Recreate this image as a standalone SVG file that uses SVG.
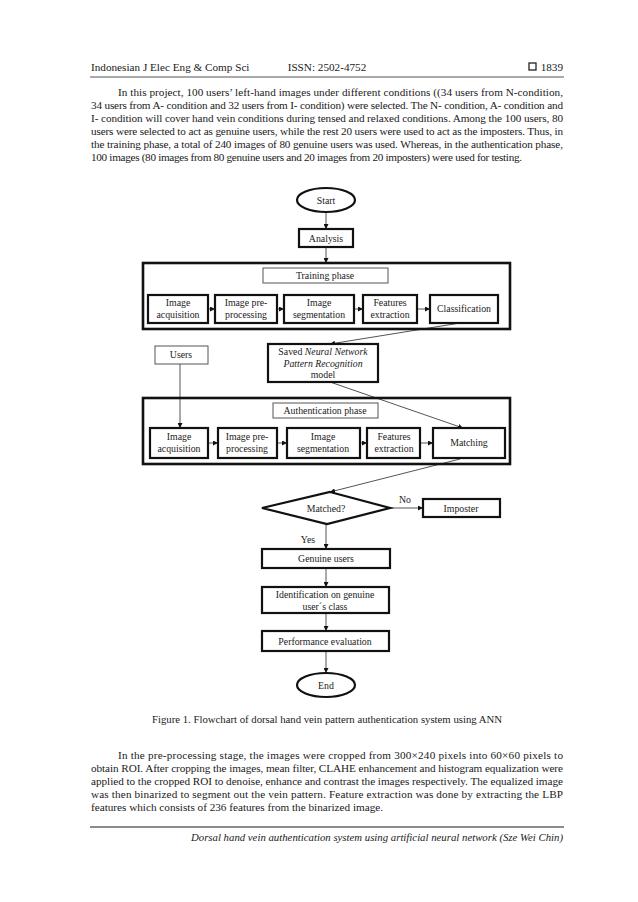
<svg xmlns="http://www.w3.org/2000/svg" width="638" height="902" viewBox="0 0 638 902">
<defs>
<marker id="ah" viewBox="0 0 6 6" refX="6" refY="3" markerWidth="5" markerHeight="5" markerUnits="userSpaceOnUse" orient="auto">
<path d="M0,0 L6,3 L0,6 z" fill="#111"/>
</marker>
</defs>
<style>
text{font-family:"Liberation Serif","Times New Roman",serif;fill:#1a1a1a}
.body{font-size:11.2px}
.hdr{font-size:11.2px}
.lbl{font-size:9.8px;text-anchor:middle}
.bx{fill:#fff;stroke:#111;stroke-width:2.2}
.outer{fill:none;stroke:#111;stroke-width:2.6}
.thin{fill:#fff;stroke:#555;stroke-width:1}
.con{fill:none;stroke:#555;stroke-width:1;marker-end:url(#ah)}
</style>
<rect width="638" height="902" fill="#fff"/>

<!-- header -->
<text class="hdr" x="91" y="71">Indonesian J Elec Eng &amp; Comp Sci</text>
<text class="hdr" x="327" y="71" text-anchor="middle">ISSN: 2502-4752</text>
<rect x="529" y="63" width="7" height="7" fill="none" stroke="#222" stroke-width="1.3"/>
<text class="hdr" x="563" y="71" text-anchor="end">1839</text>
<line x1="90" y1="77" x2="564" y2="77" stroke="#555" stroke-width="1"/>

<!-- paragraph 1 -->
<g class="body">
<text x="118" y="96" textLength="445" lengthAdjust="spacing">In this project, 100 users’ left-hand images under different conditions ((34 users from N-condition,</text>
<text x="91" y="109" textLength="472" lengthAdjust="spacing">34 users from A- condition and 32 users from I- condition) were selected. The N- condition, A- condition and</text>
<text x="91" y="122" textLength="472" lengthAdjust="spacing">I- condition will cover hand vein conditions during tensed and relaxed conditions. Among the 100 users, 80</text>
<text x="91" y="135" textLength="472" lengthAdjust="spacing">users were selected to act as genuine users, while the rest 20 users were used to act as the imposters. Thus, in</text>
<text x="91" y="148" textLength="472" lengthAdjust="spacing">the training phase, a total of 240 images of 80 genuine users was used. Whereas, in the authentication phase,</text>
<text x="91" y="161" textLength="431" lengthAdjust="spacing">100 images (80 images from 80 genuine users and 20 images from 20 imposters) were used for testing.</text>
</g>

<!-- connectors -->
<g id="connectors">
<line class="con" x1="326" y1="212" x2="326" y2="229"/>
<line class="con" x1="326" y1="247" x2="326" y2="263"/>
<line class="con" x1="208" y1="309" x2="215" y2="309"/>
<line class="con" x1="277" y1="309" x2="284" y2="309"/>
<line class="con" x1="354" y1="309" x2="363" y2="309"/>
<line class="con" x1="417" y1="309" x2="430" y2="309"/>
<line class="con" x1="460" y1="323" x2="330" y2="344"/>
<line class="con" x1="180" y1="364" x2="180" y2="428"/>
<line class="con" x1="330" y1="382" x2="463" y2="428"/>
<line class="con" x1="208" y1="443" x2="218" y2="443"/>
<line class="con" x1="277" y1="443" x2="287" y2="443"/>
<line class="con" x1="360" y1="443" x2="367" y2="443"/>
<line class="con" x1="420" y1="443" x2="433" y2="443"/>
<line class="con" x1="460" y1="459" x2="330" y2="492"/>
<line class="con" x1="390" y1="508" x2="423" y2="508"/>
<line class="con" x1="326" y1="524" x2="326" y2="549"/>
<line class="con" x1="326" y1="568" x2="326" y2="587"/>
<line class="con" x1="326" y1="613" x2="326" y2="631"/>
<line class="con" x1="326" y1="651" x2="326" y2="673"/>
<text class="lbl" x="405" y="503">No</text>
<text class="lbl" x="308" y="543">Yes</text>
</g>

<!-- nodes -->
<g id="start"><ellipse class="bx" cx="326" cy="200" rx="29" ry="12"/><text class="lbl" x="326" y="203.5">Start</text></g>
<g id="analysis"><rect class="bx" x="299" y="229" width="54" height="18"/><text class="lbl" x="326" y="241.5">Analysis</text></g>

<g id="training">
<rect class="outer" x="143" y="263" width="367" height="66"/>
<rect class="thin" x="263" y="268" width="125" height="15"/>
<text class="lbl" x="325" y="279">Training  phase</text>
</g>
<g id="t-acq"><rect class="bx" x="148" y="295" width="60" height="28"/><text class="lbl" x="178" y="306">Image</text><text class="lbl" x="178" y="318">acquisition</text></g>
<g id="t-pre"><rect class="bx" x="215" y="295" width="62" height="28"/><text class="lbl" x="246" y="306">Image pre-</text><text class="lbl" x="246" y="318">processing</text></g>
<g id="t-seg"><rect class="bx" x="284" y="295" width="70" height="28"/><text class="lbl" x="319" y="306">Image</text><text class="lbl" x="319" y="318">segmentation</text></g>
<g id="t-feat"><rect class="bx" x="363" y="295" width="54" height="28"/><text class="lbl" x="390" y="306">Features</text><text class="lbl" x="390" y="318">extraction</text></g>
<g id="t-class"><rect class="bx" x="430" y="295" width="68" height="28"/><text class="lbl" x="464" y="312">Classification</text></g>

<g id="users"><rect class="thin" x="155" y="346" width="53" height="18"/><text class="lbl" x="181" y="358">Users</text></g>
<g id="model"><rect class="bx" x="268" y="344" width="110" height="38"/>
<text class="lbl" x="323" y="355">Saved <tspan font-style="italic">Neural Network</tspan></text>
<text class="lbl" x="323" y="366.5" font-style="italic">Pattern Recognition</text>
<text class="lbl" x="323" y="378">model</text></g>

<g id="authentication">
<rect class="outer" x="143" y="398" width="367" height="66"/>
<rect class="thin" x="273" y="403" width="105" height="15"/>
<text class="lbl" x="325" y="414">Authentication phase</text>
</g>
<g id="a-acq"><rect class="bx" x="150" y="428" width="58" height="30"/><text class="lbl" x="179" y="440">Image</text><text class="lbl" x="179" y="452">acquisition</text></g>
<g id="a-pre"><rect class="bx" x="218" y="428" width="59" height="30"/><text class="lbl" x="247" y="440">Image pre-</text><text class="lbl" x="247" y="452">processing</text></g>
<g id="a-seg"><rect class="bx" x="287" y="428" width="73" height="30"/><text class="lbl" x="323" y="440">Image</text><text class="lbl" x="323" y="452">segmentation</text></g>
<g id="a-feat"><rect class="bx" x="367" y="428" width="53" height="30"/><text class="lbl" x="394" y="440">Features</text><text class="lbl" x="394" y="452">extraction</text></g>
<g id="a-match"><rect class="bx" x="433" y="428" width="72" height="30"/><text class="lbl" x="469" y="446">Matching</text></g>

<g id="matched"><polygon class="bx" points="330,492 390,508 327,524 262,508"/><text class="lbl" x="326" y="511.5">Matched?</text></g>
<g id="imposter"><rect class="bx" x="423" y="499" width="77" height="18"/><text class="lbl" x="461" y="511.5">Imposter</text></g>
<g id="genuine"><rect class="bx" x="262" y="549" width="128" height="19"/><text class="lbl" x="326" y="562">Genuine users</text></g>
<g id="ident"><rect class="bx" x="262" y="587" width="127" height="26"/><text class="lbl" x="325" y="598">Identification  on genuine</text><text class="lbl" x="325" y="610">user´s class</text></g>
<g id="perf"><rect class="bx" x="262" y="631" width="127" height="20"/><text class="lbl" x="325" y="644.5">Performance evaluation</text></g>
<g id="end"><ellipse class="bx" cx="326" cy="685" rx="29" ry="12"/><text class="lbl" x="326" y="688.5">End</text></g>

<!-- caption -->
<text class="body" x="152" y="723" textLength="350" lengthAdjust="spacingAndGlyphs">Figure 1. Flowchart of dorsal hand vein pattern authentication system using ANN</text>

<!-- paragraph 2 -->
<g class="body">
<text x="118" y="759" textLength="445" lengthAdjust="spacing">In the pre-processing stage, the images were cropped from 300×240 pixels into 60×60 pixels to</text>
<text x="91" y="772" textLength="472" lengthAdjust="spacing">obtain ROI. After cropping the images, mean filter, CLAHE enhancement and histogram equalization were</text>
<text x="91" y="785" textLength="472" lengthAdjust="spacing">applied to the cropped ROI to denoise, enhance and contrast the images respectively. The equalized image</text>
<text x="91" y="798" textLength="472" lengthAdjust="spacing">was then binarized to segment out the vein pattern. Feature extraction was done by extracting the LBP</text>
<text x="91" y="811">features which consists of 236 features from the binarized image.</text>
</g>

<!-- footer -->
<line x1="90" y1="827" x2="564" y2="827" stroke="#666" stroke-width="1.5"/>
<text class="body" x="191" y="841" textLength="372" lengthAdjust="spacingAndGlyphs" font-style="italic">Dorsal hand vein authentication system using artificial neural network (Sze Wei Chin)</text>
</svg>
